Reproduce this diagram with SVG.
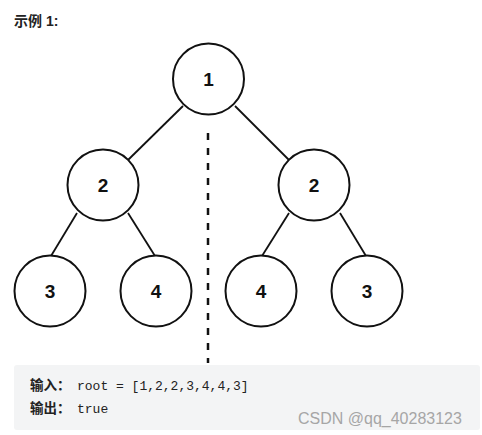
<svg xmlns="http://www.w3.org/2000/svg" width="482" height="435" viewBox="0 0 482 435">
<style>
.node circle{fill:#fff;stroke:#111;stroke-width:2}
.node text{font-family:"Liberation Sans",Arial,sans-serif;font-weight:bold;font-size:19px;fill:#111;text-anchor:middle}
.edge{stroke:#111;stroke-width:1.8;fill:none}
.dash{stroke:#111;stroke-width:2.5;stroke-dasharray:7 8;fill:none}
.cjk{font-family:"Liberation Sans","Noto Sans CJK SC",sans-serif;font-weight:bold;fill:#222}
.mono{font-family:"Liberation Mono","DejaVu Sans Mono",monospace;font-size:13px;fill:#222}
</style>
<rect width="482" height="435" fill="#fff"/>
<text x="14" y="26" class="cjk" font-size="14">示例 1:</text>
<g id="connectors">
<line class="edge" x1="183" y1="106" x2="128" y2="160"/>
<line class="edge" x1="235" y1="106" x2="289" y2="160"/>
<line class="edge" x1="77" y1="213" x2="51" y2="256"/>
<line class="edge" x1="128" y1="213" x2="155" y2="256"/>
<line class="edge" x1="289" y1="213" x2="262" y2="256"/>
<line class="edge" x1="340" y1="213" x2="366" y2="256"/>
<line class="dash" x1="208" y1="133" x2="208" y2="363"/>
</g>
<g id="n1" class="node"><circle cx="208.5" cy="79" r="35.5"/><text x="208.5" y="86">1</text></g>
<g id="n2l" class="node"><circle cx="103" cy="185" r="35.5"/><text x="103" y="192">2</text></g>
<g id="n2r" class="node"><circle cx="314" cy="185" r="35.5"/><text x="314" y="192">2</text></g>
<g id="n3l" class="node"><circle cx="50" cy="291" r="35.5"/><text x="50" y="298">3</text></g>
<g id="n4l" class="node"><circle cx="156" cy="291" r="35.5"/><text x="156" y="298">4</text></g>
<g id="n4r" class="node"><circle cx="261" cy="291" r="35.5"/><text x="261" y="298">4</text></g>
<g id="n3r" class="node"><circle cx="367" cy="291" r="35.5"/><text x="367" y="298">3</text></g>
<g id="output">
<rect x="14" y="365" width="466" height="65" rx="3" fill="#f3f4f5"/>
<text x="30" y="390"><tspan class="cjk" font-size="13.5">输入：</tspan><tspan class="mono" x="77">root = [1,2,2,3,4,4,3]</tspan></text>
<text x="30" y="413"><tspan class="cjk" font-size="13.5">输出：</tspan><tspan class="mono" x="77">true</tspan></text>
<text x="298" y="424" font-family="'Liberation Sans',Arial,sans-serif" font-size="16" fill="#a6a6a6">CSDN @qq_40283123</text>
</g>
</svg>
